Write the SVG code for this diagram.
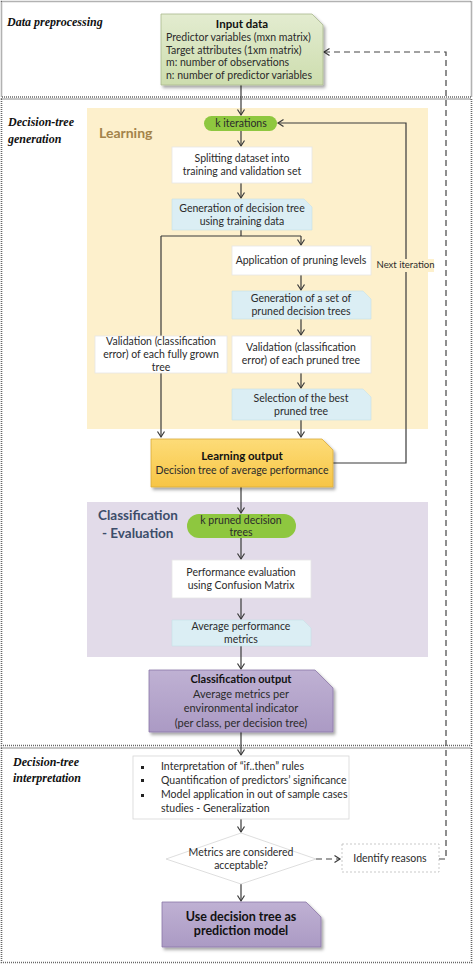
<svg xmlns="http://www.w3.org/2000/svg" width="474" height="965" viewBox="0 0 474 965">
<defs>
<style>
text{font-family:Lato,"Open Sans","Liberation Sans",sans-serif;font-size:10.5px;fill:#2b2b2b}
.c{text-anchor:middle}
.b{font-weight:bold}
.sec{font-family:"Liberation Serif","Times New Roman",serif;font-style:italic;font-weight:bold;font-size:12px;fill:#111}
.frame{fill:none;stroke:#666;stroke-width:1.6;stroke-dasharray:1 1}
.ln{fill:none;stroke:#3a3a3a;stroke-width:1.2}
.dash{fill:none;stroke:#444;stroke-width:1.2;stroke-dasharray:6 4}
.white{fill:#fff;stroke:#e6e6e6;stroke-width:0.8}
.blue{fill:#dbeef4;stroke:#c8e0e8;stroke-width:0.6}
.pill{fill:#8ec73f}
</style>
<marker id="ah" markerWidth="10" markerHeight="10" refX="6" refY="4" orient="auto" markerUnits="userSpaceOnUse">
<path d="M0.5,0.5 L6,4 L0.5,7.5" fill="none" stroke="#3a3a3a" stroke-width="1.2"/>
</marker>
<linearGradient id="gGreen" x1="0" y1="0" x2="0" y2="1"><stop offset="0" stop-color="#e3ecd0"/><stop offset="1" stop-color="#cdddae"/></linearGradient>
<linearGradient id="gYel" x1="0" y1="0" x2="0" y2="1"><stop offset="0" stop-color="#fddc78"/><stop offset="1" stop-color="#f7c545"/></linearGradient>
<linearGradient id="gPur" x1="0" y1="0" x2="0" y2="1"><stop offset="0" stop-color="#bfb1d3"/><stop offset="1" stop-color="#ab9ac4"/></linearGradient>
<filter id="sh" x="-10%" y="-10%" width="125%" height="135%"><feDropShadow dx="2" dy="2.5" stdDeviation="1.6" flood-color="#000" flood-opacity="0.35"/></filter>
</defs>
<rect width="474" height="965" fill="#fff"/>

<g id="sections">
<rect class="frame" x="1.5" y="1.5" width="470" height="95.5"/>
<rect class="frame" x="1.5" y="99" width="470" height="646.5"/>
<rect class="frame" x="1.5" y="748" width="470" height="214.5"/>
<text class="sec" x="7" y="26">Data preprocessing</text>
<text class="sec" x="8" y="126">Decision-tree</text>
<text class="sec" x="8" y="143">generation</text>
<text class="sec" x="13" y="766">Decision-tree</text>
<text class="sec" x="13" y="782">interpretation</text>
</g>

<g id="learning-region">
<rect x="87" y="108" width="341" height="321" fill="#fdf0cc"/>
<text x="99" y="138" style="font-size:14px;font-weight:bold;fill:#a3834a">Learning</text>
</g>
<g id="classification-region">
<rect x="87" y="502" width="341" height="155" fill="#e2dbe9"/>
<text x="98" y="520" style="font-size:13.5px;font-weight:bold;fill:#3c4d6a">Classification</text>
<text x="102" y="538" style="font-size:13.5px;font-weight:bold;fill:#3c4d6a">- Evaluation</text>
</g>

<g id="connectors">
<path class="ln" d="M241,85 V115" marker-end="url(#ah)"/>
<path class="ln" d="M241,131 V146" marker-end="url(#ah)"/>
<path class="ln" d="M241,183 V198" marker-end="url(#ah)"/>
<path class="ln" d="M241,230 V236 M161,236 H301"/>
<path class="ln" d="M301,236 V245" marker-end="url(#ah)"/>
<path class="ln" d="M161,236 V437" marker-end="url(#ah)"/>
<path class="ln" d="M301,275 V290" marker-end="url(#ah)"/>
<path class="ln" d="M301,319 V335" marker-end="url(#ah)"/>
<path class="ln" d="M301,373 V388" marker-end="url(#ah)"/>
<path class="ln" d="M301,420 V437" marker-end="url(#ah)"/>
<path class="ln" d="M333,463 H406 V123 H278" marker-end="url(#ah)"/>
<rect x="377" y="259" width="57" height="13" fill="#fdf0cc"/>
<text x="405.5" y="268" class="c" style="font-size:9.5px">Next iteration</text>
<path class="ln" d="M241,487 V513" marker-end="url(#ah)"/>
<path class="ln" d="M241,538 V559" marker-end="url(#ah)"/>
<path class="ln" d="M241,598 V619" marker-end="url(#ah)"/>
<path class="ln" d="M241,646 V669" marker-end="url(#ah)"/>
<path class="ln" d="M241,732 V755" marker-end="url(#ah)"/>
<path class="ln" d="M241,819 V832" marker-end="url(#ah)"/>
<path class="ln" d="M241,884 V901" marker-end="url(#ah)"/>
<path class="dash" d="M316,859 H340" marker-end="url(#ah)"/>
<path class="dash" d="M439,859 H446 V52 H324" marker-end="url(#ah)"/>
</g>

<g id="input-data">
<path d="M161,14 H312 L323,25 V85 H161 Z" fill="url(#gGreen)" stroke="#a9b98e" stroke-width="0.8" filter="url(#sh)"/>
<text x="242" y="28" class="c b" style="font-size:11.5px;fill:#111">Input data</text>
<text x="166" y="41">Predictor variables (mxn matrix)</text>
<text x="166" y="54">Target attributes (1xm matrix)</text>
<text x="166" y="66">m: number of observations</text>
<text x="166" y="79">n: number of predictor variables</text>
</g>

<g id="k-iterations">
<rect class="pill" x="204" y="116" width="73" height="15" rx="7.5"/>
<text x="241" y="127" class="c">k iterations</text>
</g>

<g id="splitting">
<rect class="white" x="172" y="147" width="140" height="36"/>
<text x="242" y="162" class="c">Splitting dataset into</text>
<text x="242" y="175" class="c">training and validation set</text>
</g>

<g id="generation-tree">
<path class="blue" d="M172,199 H304 L312,207 V230 H172 Z"/>
<text x="242" y="212" class="c">Generation of decision tree</text>
<text x="242" y="225" class="c">using training data</text>
</g>

<g id="pruning-levels">
<rect class="white" x="232" y="246" width="139" height="29"/>
<text x="301" y="264" class="c">Application of pruning levels</text>
</g>

<g id="pruned-set">
<path class="blue" d="M232,291 H363 L371,299 V319 H232 Z"/>
<text x="301" y="302" class="c">Generation of a set of</text>
<text x="301" y="315" class="c">pruned decision trees</text>
</g>

<g id="validation-full">
<rect class="white" x="95" y="336" width="132" height="37"/>
<text x="161" y="345" class="c">Validation  (classification</text>
<text x="161" y="358" class="c">error) of each fully grown</text>
<text x="161" y="371" class="c">tree</text>
</g>

<g id="validation-pruned">
<rect class="white" x="232" y="336" width="139" height="37"/>
<text x="301" y="351" class="c">Validation  (classification</text>
<text x="301" y="364" class="c">error) of each pruned tree</text>
</g>

<g id="selection">
<path class="blue" d="M232,389 H363 L371,397 V420 H232 Z"/>
<text x="301" y="402" class="c">Selection of the best</text>
<text x="301" y="415" class="c">pruned tree</text>
</g>

<g id="learning-output">
<path d="M151,439 H322 L333,450 V487 H151 Z" fill="url(#gYel)" stroke="#d9ab3a" stroke-width="0.8" filter="url(#sh)"/>
<text x="242" y="460" class="c b" style="font-size:11.5px;fill:#111">Learning output</text>
<text x="242" y="474" class="c">Decision tree of average performance</text>
</g>

<g id="k-pruned">
<rect class="pill" x="187" y="514" width="109" height="24" rx="12"/>
<text x="241" y="524" class="c">k pruned decision</text>
<text x="241" y="536" class="c">trees</text>
</g>

<g id="performance-eval">
<rect class="white" x="172" y="560" width="139" height="38"/>
<text x="241" y="576" class="c">Performance evaluation</text>
<text x="241" y="589" class="c">using Confusion Matrix</text>
</g>

<g id="avg-metrics">
<path class="blue" d="M172,620 H303 L311,628 V646 H172 Z"/>
<text x="241" y="630" class="c">Average performance</text>
<text x="241" y="643" class="c">metrics</text>
</g>

<g id="classification-output">
<path d="M149,670 H315 L333,688 V732 H149 Z" fill="url(#gPur)" stroke="#8b76a8" stroke-width="0.8" filter="url(#sh)"/>
<text x="241" y="683" class="c b" style="font-size:11px;fill:#111">Classification output</text>
<text x="241" y="698" class="c" style="font-size:11px">Average metrics per</text>
<text x="241" y="712" class="c" style="font-size:11px">environmental indicator</text>
<text x="241" y="727" class="c" style="font-size:11px">(per class, per decision tree)</text>
</g>

<g id="interpretation">
<rect class="white" x="133" y="756" width="216" height="63" style="stroke:#d6d6d6"/>
<rect x="141" y="766" width="3" height="3" fill="#222"/>
<rect x="141" y="779" width="3" height="3" fill="#222"/>
<rect x="141" y="794" width="3" height="3" fill="#222"/>
<text x="161" y="770">Interpretation of “if..then” rules</text>
<text x="161" y="784">Quantification of predictors’ significance</text>
<text x="161" y="798">Model application in out of sample cases</text>
<text x="161" y="812">studies - Generalization</text>
</g>

<g id="decision">
<path d="M241,833 L316,859 L241,884 L166,859 Z" fill="#fff" stroke="#d6d6d6" stroke-width="0.8"/>
<text x="241" y="856" class="c">Metrics are considered</text>
<text x="241" y="869" class="c">acceptable?</text>
</g>

<g id="identify-reasons">
<rect x="342" y="844" width="97" height="28" fill="#fff" stroke="#bbb" stroke-width="0.8" stroke-dasharray="2 2"/>
<text x="390" y="862" class="c">Identify reasons</text>
</g>

<g id="use-tree">
<path d="M162,902 H306 L321,917 V947 H162 Z" fill="url(#gPur)" stroke="#8b76a8" stroke-width="0.8" filter="url(#sh)"/>
<text x="241" y="921" class="c b" style="font-size:12.5px;fill:#111">Use decision tree as</text>
<text x="241" y="935" class="c b" style="font-size:12.5px;fill:#111">prediction model</text>
</g>
</svg>
